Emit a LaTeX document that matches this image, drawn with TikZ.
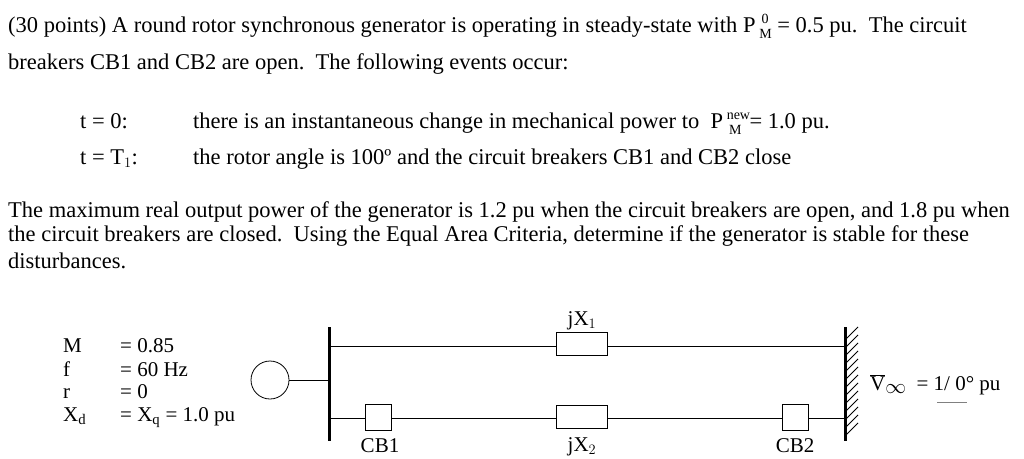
\documentclass[tikz,border=0pt]{standalone}
\usepackage{fontspec}
\setmainfont{Liberation Serif}
\newcommand{\stk}[2]{\,\rlap{\raisebox{9pt}{\fontsize{14}{14}\selectfont #1}}\raisebox{-6pt}{\fontsize{14}{14}\selectfont #2}}
\begin{document}
\begin{tikzpicture}[x=1pt,y=-1pt,
  txt/.style={anchor=base west,inner sep=0,font=\fontsize{22.5}{26}\selectfont},
  sm/.style={anchor=base west,inner sep=0,font=\fontsize{21}{24}\selectfont},
  box/.style={draw,line width=0.8pt,fill=white,minimum width=51pt,minimum height=23pt,inner sep=0},
  cb/.style={draw,line width=0.8pt,fill=white,minimum width=26pt,minimum height=26pt,inner sep=0},
  ln/.style={line width=0.8pt}]
\useasboundingbox (0,0) rectangle (1024,458);
\node[txt] (l1) at (8,32) {(30 points) A round rotor synchronous generator is operating in steady-state with P\stk{\,0}{M} = 0.5 pu.\ \ The circuit};
\node[txt] (l2) at (8,69) {breakers CB1 and CB2 are open.\ \ The following events occur:};
\node[txt] (e1a) at (80,128) {t = 0:};
\node[txt] (e1b) at (193,128) {there is an instantaneous change in mechanical power to\ \ P\stk{new}{\,M\,} = 1.0 pu.};
\node[txt] (e2a) at (80,164) {t = T$_1$:};
\node[txt] (e2b) at (193,164) {the rotor angle is 100º and the circuit breakers CB1 and CB2 close};
\node[txt] (p1) at (8,217) {The maximum real output power of the generator is 1.2 pu when the circuit breakers are open, and 1.8 pu when};
\node[txt] (p2) at (8,241) {the circuit breakers are closed.\ \ Using the Equal Area Criteria, determine if the generator is stable for these};
\node[txt] (p3) at (8,268) {disturbances.};
\node[sm] (pm) at (63,352) {M};
\node[sm] (pf) at (63,376) {f};
\node[sm] (pr) at (63,398) {r};
\node[sm] (px) at (63,421) {X$_\mathrm{d}$};
\node[sm] (vm) at (120,352) {= 0.85};
\node[sm] (vf) at (120,376) {= 60 Hz};
\node[sm] (vr) at (120,398) {= 0};
\node[sm] (vx) at (120,421) {= X$_\mathrm{q}$ = 1.0 pu};
% network
\node[draw,ln,circle,minimum size=38pt,inner sep=0] (g) at (270,380) {};
\coordinate (bt) at (329,327); \coordinate (bb) at (329,441);
\draw[line width=3pt] (bt) -- (bb);
\coordinate (gb) at (329,380);
\draw[ln] (g.east) -- (gb);
\coordinate (t1) at (329,346); \coordinate (t2) at (845,346);
\coordinate (b1) at (329,418); \coordinate (b2) at (845,418);
\draw[ln] (t1) -- (t2);
\draw[ln] (b1) -- (b2);
\node[box] (x1) at (582,344) {};
\node[box] (x2) at (582,417) {};
\node[cb] (cb1) at (378,417) {};
\node[cb] (cb2) at (795,417) {};
\node[sm,anchor=base] (lx1) at (582,325) {jX$_1$};
\node[sm,anchor=base] (lx2) at (582,451) {jX$_2$};
\node[sm,anchor=base] (lc1) at (380,452) {CB1};
\node[sm,anchor=base] (lc2) at (795,452) {CB2};
\coordinate (it) at (845,327); \coordinate (ib) at (845,441);
\draw[line width=3pt] (it) -- (ib);
\foreach \y in {340,348,...,440} \draw[ln] (845,\y) -- (858,\y-13);
\node[sm] (vinf) at (870,390) {$\overline{\mbox{V}}$\raisebox{-3pt}{$\infty$}\ \ = 1/ 0° pu};
\draw[line width=1pt,gray] (937,402) -- (967,402);
\end{tikzpicture}
\end{document}
